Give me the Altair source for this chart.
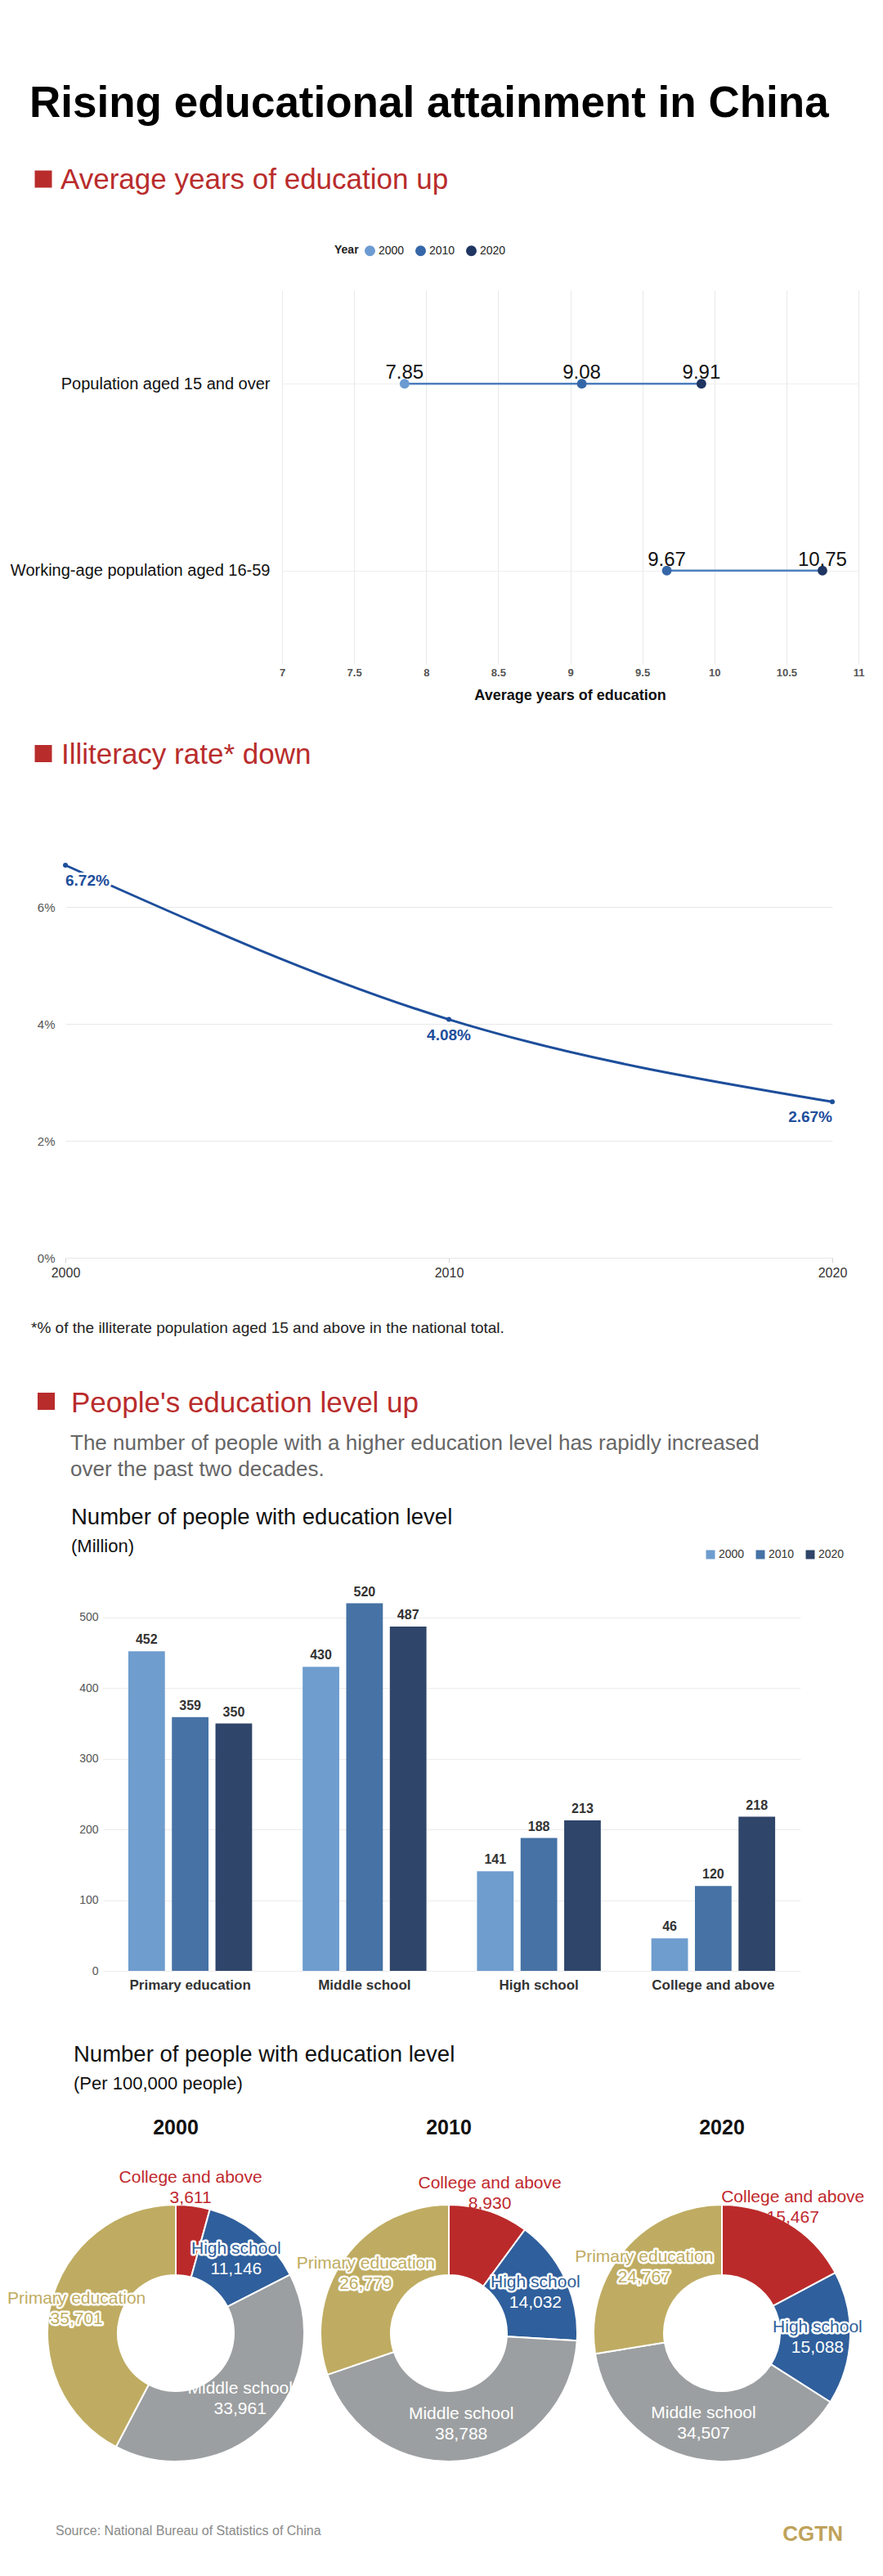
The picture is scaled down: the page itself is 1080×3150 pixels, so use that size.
import altair as alt
import pandas as pd

FONT = "'Liberation Sans', Arial, sans-serif"
W = 1080
RED = "#B92C2C"
BLUE = "#1D4E9B"
GOLD = "#BFA25A"

# ---------------- data ----------------
main_title = "Rising educational attainment in China"
head1 = "Average years of education up"
head2 = "Illiteracy rate* down"
head3 = "People's education level up"
footnote = "*% of the illiterate population aged 15 and above in the national total."
sub_lines = ["The number of people with a higher education level has rapidly increased",
             "over the past two decades."]
chart_title = "Number of people with education level"
unit_million = "(Million)"
unit_per = "(Per 100,000 people)"
source = "Source: National Bureau of Statistics of China"
brand = "CGTN"

years = ["2000", "2010", "2020"]

db_rows = ["Population aged 15 and over", "Working-age population aged 16-59"]
db_group = [db_rows[0]] * 3 + [db_rows[1]] * 2
db_year = ["2000", "2010", "2020", "2010", "2020"]
db_value = [7.85, 9.08, 9.91, 9.67, 10.75]
db_ticks = [7, 7.5, 8, 8.5, 9, 9.5, 10, 10.5, 11]

il_year = [2000, 2010, 2020]
il_rate = [6.72, 4.08, 2.67]
il_ticks = [0, 2, 4, 6]

levels = ["Primary education", "Middle school", "High school", "College and above"]
bar_2000 = [452, 430, 141, 46]
bar_2010 = [359, 520, 188, 120]
bar_2020 = [350, 487, 213, 218]
bar_ticks = [0, 100, 200, 300, 400, 500]

pie_cats = ["College and above", "High school", "Middle school", "Primary education"]
pie_2000 = [3611, 11146, 33961, 35701]
pie_2010 = [8930, 14032, 38788, 26779]
pie_2020 = [15467, 15088, 34507, 24767]

DB_COLORS = ["#6B9BD2", "#3567A8", "#1F3562"]
BAR_COLORS = ["#6E9DCE", "#4672A5", "#2F4569"]
PIE_COLORS = ["#BB2A2A", "#2F5F9C", "#9C9FA1", "#BFAC62"]


def T(s, x, y, size, color="#111111", weight="normal", align="left", baseline="alphabetic"):
    return alt.Chart(alt.Data(values=[{}])).mark_text(
        text=s, fontSize=size, color=color, fontWeight=weight, align=align,
        baseline=baseline, font=FONT).encode(x=alt.value(x), y=alt.value(y))


def SQ(x, y, side=21):
    return alt.Chart(alt.Data(values=[{}])).mark_square(
        size=side * side, color=RED, opacity=1).encode(x=alt.value(x), y=alt.value(y))


# ---------------- panel 1: title + header ----------------
p1 = alt.layer(
    T(main_title, 36, 143, 53, "#000000", "bold"),
    SQ(53, 219),
    T(head1, 74, 231, 35, RED),
).properties(width=W, height=299)

# ---------------- panel 2: dumbbell ----------------
dbdf = pd.DataFrame({"group": db_group, "year": db_year, "value": db_value})
db_x = alt.X("value:Q", scale=alt.Scale(domain=[7, 11], range=[345, 1050], nice=False, zero=False),
             axis=alt.Axis(values=db_ticks, format="~g", title="Average years of education",
                           titleFont=FONT, titleFontSize=18, titleFontWeight="bold",
                           titleColor="#111", titlePadding=12, titleX=697, titleAnchor="middle",
                           labelFont=FONT, labelFontSize=13, labelFontWeight="bold",
                           labelColor="#555", labelPadding=4, ticks=False, domain=False,
                           gridColor="#e9e9e9", labelFlush=False))
db_y = alt.Y("group:N", sort=db_rows, scale=alt.Scale(type="point", padding=0.5),
             axis=alt.Axis(title=None, labelFont=FONT, labelFontSize=20, labelColor="#111",
                           labelLimit=400, ticks=False, domain=False, grid=True,
                           gridColor="#eeeeee", labelPadding=15, offset=-345))
db_base = alt.Chart(dbdf).encode(x=db_x, y=db_y)
db_line = db_base.mark_line(color="#4D7FBD", strokeWidth=2.5).encode(detail="group:N")
db_pts = db_base.mark_circle(size=140, opacity=1).encode(
    color=alt.Color("year:N", scale=alt.Scale(domain=years, range=DB_COLORS),
                    legend=alt.Legend(orient="none", legendX=409, legendY=-56,
                                      direction="horizontal", title="Year", titleOrient="left",
                                      titleFont=FONT, titleFontSize=14, titleFontWeight="bold",
                                      titleColor="#222", titlePadding=6,
                                      labelFont=FONT, labelFontSize=14, labelColor="#222",
                                      labelOffset=3, symbolType="circle", symbolSize=170,
                                      columnPadding=12)))
db_lbl = db_base.mark_text(dy=-13, fontSize=24, font=FONT, color="#111").encode(
    text=alt.Text("value:Q", format=".2f"))
p2 = alt.layer(db_line, db_pts, db_lbl).properties(width=W, height=457)

# ---------------- panel 3: header 2 ----------------
p3 = alt.layer(SQ(53, 62.5), T(head2, 75, 75, 35, RED)).properties(width=W, height=179)

# ---------------- panel 4: illiteracy line ----------------
ildf = pd.DataFrame({"year": il_year, "rate": il_rate})
il_x = alt.X("year:Q", scale=alt.Scale(domain=[2000, 2020], range=[80, 1018], nice=False, zero=False),
             axis=alt.Axis(values=il_year, format="d", title=None, grid=False, domain=False,
                           ticks=True, tickColor="#d5d5d5", tickSize=6, labelFont=FONT,
                           labelFontSize=16, labelColor="#333", labelPadding=4,
                           labelFlush=False))
il_y = alt.Y("rate:Q", scale=alt.Scale(domain=[0, 7], nice=False),
             axis=alt.Axis(values=il_ticks, labelExpr="datum.value + '%'", title=None,
                           domain=False, ticks=False, gridColor="#e8e8e8", labelFont=FONT,
                           labelFontSize=15, labelColor="#555", labelPadding=13, offset=-80))
il_base = alt.Chart(ildf).encode(x=il_x, y=il_y).transform_calculate(
    lab="format(datum.rate, '.2f') + '%'")
il_layers = [il_base.mark_line(interpolate="monotone", color=BLUE, strokeWidth=3),
             il_base.mark_circle(size=36, color=BLUE, opacity=1)]
for yr, al in zip(il_year, ["left", "center", "right"]):
    b = il_base.transform_filter(alt.datum.year == yr)
    il_layers.append(b.mark_text(align=al, baseline="middle", dy=19, fontSize=19,
                                 fontWeight="bold", font=FONT, fill="white", stroke="white",
                                 strokeWidth=6, strokeJoin="round").encode(text="lab:N"))
    il_layers.append(b.mark_text(align=al, baseline="middle", dy=19, fontSize=19,
                                 fontWeight="bold", font=FONT, fill=BLUE).encode(text="lab:N"))
p4 = alt.layer(*il_layers).properties(width=W, height=500)

# ---------------- panel 5: footnote + header 3 + texts ----------------
p5 = alt.layer(
    T(footnote, 38, 60, 19, "#222222", baseline="middle"),
    SQ(56.5, 149.5),
    T(head3, 87, 163, 35, RED),
    T(sub_lines[0], 86, 209, 26, "#666666"),
    T(sub_lines[1], 86, 241, 26, "#666666"),
    T(chart_title, 87, 300, 27.5, "#111111"),
).properties(width=W, height=316)

# ---------------- panel 7: grouped bars ----------------
bdf = pd.DataFrame({"level": levels * 3,
                    "year": [y for y in years for _ in levels],
                    "value": bar_2000 + bar_2010 + bar_2020})
b_x = alt.X("level:N", sort=levels,
            scale=alt.Scale(range=[126, 979], paddingInner=0.29, paddingOuter=0.145),
            axis=alt.Axis(title=None, labelAngle=0, labelFont=FONT, labelFontSize=17,
                          labelFontWeight="bold", labelColor="#333", ticks=False, domain=False,
                          labelPadding=9))
b_xo = alt.XOffset("year:N", sort=years, scale=alt.Scale(paddingInner=0.16))
b_y = alt.Y("value:Q", scale=alt.Scale(domain=[0, 560], nice=False),
            axis=alt.Axis(values=bar_ticks, title=None, domain=False, ticks=False,
                          gridColor="#ececec", labelFont=FONT, labelFontSize=14,
                          labelColor="#555", labelPadding=6, offset=-126))
b_base = alt.Chart(bdf).encode(x=b_x, xOffset=b_xo, y=b_y)
bars = b_base.mark_bar().encode(
    color=alt.Color("year:N", scale=alt.Scale(domain=years, range=BAR_COLORS),
                    legend=alt.Legend(orient="none", legendX=862, legendY=-32,
                                      direction="horizontal", title=None, symbolType="square",
                                      symbolSize=120, labelFont=FONT, labelFontSize=14,
                                      labelColor="#333", columnPadding=12, labelOffset=3)))
blabels = b_base.mark_text(dy=-14, baseline="middle", fontSize=16, fontWeight="bold",
                           font=FONT, color="#333").encode(text="value:Q")
p7 = alt.layer(bars, blabels, T(unit_million, 87, -35, 22, "#111111", baseline="middle")
               ).properties(width=W, height=484)

# ---------------- panel 8: donuts ----------------
rows = []
for y, vals in zip(years, [pie_2000, pie_2010, pie_2020]):
    for i, (c, v) in enumerate(zip(pie_cats, vals)):
        rows.append({"year": y, "category": c, "value": v, "ord": i})
pdf = pd.DataFrame(rows)
th = alt.Scale(domain=[0, 1], range=[0, 6.283185307179586])
cx = alt.X("year:N", scale=alt.Scale(type="point", domain=years, range=[215, 883], padding=0),
           axis=None)
CY = 418
pbase = (alt.Chart(pdf)
         .transform_window(cum="sum(value)", sort=[alt.SortField("ord")], groupby=["year"],
                           frame=[None, 0])
         .transform_joinaggregate(total="sum(value)", groupby=["year"])
         .transform_calculate(start="(datum.cum - datum.value) / datum.total",
                              end="datum.cum / datum.total",
                              mid="(datum.cum - datum.value / 2) / datum.total",
                              vtxt="format(datum.value, ',')"))
arcs = pbase.mark_arc(radius=157, radius2=71, stroke="white", strokeWidth=2).encode(
    theta=alt.Theta("start:Q", scale=th, stack=None), theta2="end:Q",
    x=cx, y=alt.value(CY),
    color=alt.Color("category:N", scale=alt.Scale(domain=pie_cats, range=PIE_COLORS),
                    legend=None))
year_lbl = alt.Chart(pd.DataFrame({"year": years})).mark_text(
    fontSize=25, fontWeight="bold", font=FONT, color="#111", baseline="middle").encode(
    x=cx, y=alt.value(167), text="year:N")


def plabel(cat, r, name_fill, num_fill, name_halo=None, num_halo=None, size=21, dx=0):
    b = pbase.transform_filter(alt.datum.category == cat)
    enc = dict(theta=alt.Theta("mid:Q", scale=th, stack=None), x=cx, y=alt.value(CY))
    out = []
    for field, fill, halo, dy in [("category:N", name_fill, name_halo, -12),
                                  ("vtxt:N", num_fill, num_halo, 13)]:
        common = dict(radius=r, dy=dy, dx=dx, fontSize=size, font=FONT, align="center",
                      baseline="middle")
        if halo:
            out.append(b.mark_text(**common, fill=halo, stroke=halo, strokeWidth=5,
                                   strokeJoin="round").encode(text=field, **enc))
        out.append(b.mark_text(**common, fill=fill).encode(text=field, **enc))
    return out


labels = []
labels += plabel("College and above", 180, "#C0282D", "#C0282D", dx=-6)
labels += plabel("High school", 117, "#2F5F9C", "#FFFFFF", "#FFFFFF", "#2F5F9C")
labels += plabel("Middle school", 112, "#FFFFFF", "#FFFFFF")
labels += plabel("Primary education", 125, "#BFAC62", "#BFAC62", "#FFFFFF", "#FFFFFF")

p8 = alt.layer(
    T(chart_title, 90, 78, 27.5, "#111111", baseline="middle"),
    T(unit_per, 90, 113, 22, "#111111", baseline="middle"),
    year_lbl, arcs, *labels,
    T(source, 68, 660, 16, "#8a8a8a", baseline="middle"),
    T(brand, 1031, 664, 26, GOLD, "bold", "right", "middle"),
).properties(width=W, height=714)

chart = (alt.concat(p1, p2, p3, p4, p5, p7, p8, columns=1, spacing=0, align="none")
         .resolve_scale(x="independent", y="independent", color="independent",
                        theta="independent", xOffset="independent")
         .resolve_legend(color="independent")
         .properties(padding=0, background="white")
         .configure_view(stroke=None))

chart.save("out.html", embed_options={"renderer": "svg", "actions": False})
